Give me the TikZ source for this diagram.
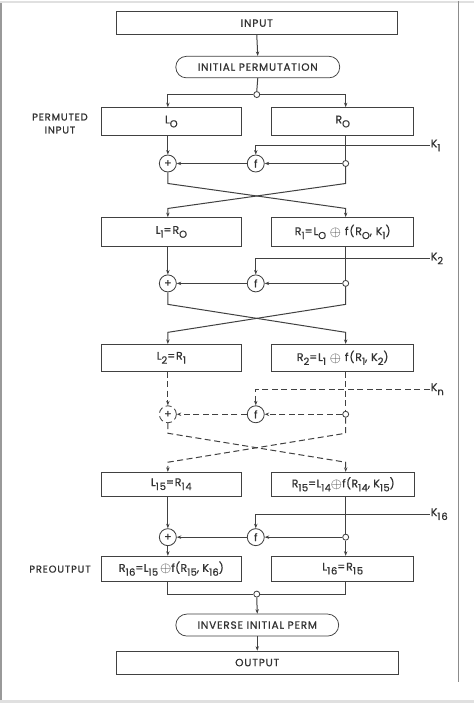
\documentclass[tikz,border=0pt]{standalone}
\usepackage{fontspec}
\setmainfont{Poppins}[LetterSpace=8, FakeBold=0.7]
\usetikzlibrary{arrows.meta}
\definecolor{ink}{RGB}{50,50,50}
\definecolor{lin}{RGB}{65,65,65}
\newcommand\subx[1]{\raisebox{-0.36em}{\fontsize{10}{10}\selectfont #1}}
\newcommand\xorc{\raisebox{-0.1em}{\fontsize{15}{15}\selectfont$\oplus$}}
\begin{document}
\begin{tikzpicture}[x=1pt,y=-1pt,
  every node/.style={text=ink, font=\fontsize{10.5}{13}\selectfont},
  bx/.style={draw=lin, line width=0.75pt, inner sep=0pt, minimum width=141pt},
  fx/.style={font=\fontsize{11}{13}\selectfont},
  pill/.style={draw=lin, line width=0.75pt, inner sep=0pt, minimum width=164pt, minimum height=21.5pt, rounded corners=10.5pt},
  wire/.style={draw=lin, line width=1pt},
  arr/.style={-{Stealth[length=4.5pt,width=3.4pt]}},
  dsh/.style={dash pattern=on 6pt off 3.5pt},
  circ/.style={circle, draw=lin, line width=0.85pt, minimum size=17pt, inner sep=0pt, fill=white, font=\fontsize{10.5}{11}\selectfont},
  dot/.style={circle, draw=lin, line width=0.85pt, minimum size=6pt, inner sep=0pt, fill=white},
  klab/.style={anchor=west, inner sep=1pt, font=\fontsize{11}{13}\selectfont},
  side/.style={align=center, font=\fontsize{10}{13}\selectfont}]
% frame
\fill[white] (0,0) rectangle (474,703);
\fill[black!40] (0,0) rectangle (2.2,703);
\fill[black!12] (0,0) rectangle (474,2);
\fill[black!12] (0,700) rectangle (474,703);
\draw[black!45, line width=1.3pt] (459,0) -- (459,682);
\useasboundingbox (0,0) rectangle (474,703);
\coordinate (lx) at (168,0);
\coordinate (rx) at (346,0);
% top
\node[bx, minimum width=282pt, minimum height=23pt] (in) at (257,22.5) {INPUT};
\node[pill] (ip) at (258,66.5) {INITIAL PERMUTATION};
\node[dot] (j0) at (257,94) {};
\node[bx, fx, minimum height=28pt] (L0) at (171.5,121) {L\subx{O}};
\node[bx, fx, minimum width=142pt, minimum height=28pt] (R0) at (343,121) {R\subx{O}};
\node[side] (perm) at (60,123) {PERMUTED\\INPUT};
\draw[wire,arr] (in.south) -- (ip.north);
\draw[wire] (ip.south) -- (j0.north);
\draw[wire,arr] (j0.west) -| (L0.north -| lx);
\draw[wire,arr] (j0.east) -| (R0.north -| rx);
% round 1
\node[circ] (p1) at (168,163) {+};
\node[circ] (f1) at (256,163) {f};
\node[dot] (j1) at (346,163) {};
\node[klab] (k1) at (430,145) {K\subx{1}};
\node[bx, fx, minimum height=29pt] (L1) at (171.5,231.5) {L\subx{1}=R\subx{O}};
\node[bx, fx, minimum width=142pt, minimum height=29pt] (R1) at (343,231.5) {R\subx{1}=L\subx{O} \xorc{} f(R\subx{O}, K\subx{1})};
\draw[wire,arr] (k1.west) -| (f1.north);
\draw[wire,arr] (L0.south -| lx) -- (p1.north);
\draw[wire] (R0.south -| rx) -- (j1.north);
\draw[wire,arr] (j1.west) -- (f1.east);
\draw[wire,arr] (f1.west) -- (p1.east);
\draw[wire,arr] (p1.south) -- (168,183) -- (346,208) -- (R1.north -| rx);
\draw[wire,arr] (j1.south) -- (346,183) -- (168,208) -- (L1.north -| lx);
% round 2
\node[circ] (p2) at (168,283) {+};
\node[circ] (f2) at (256,283) {f};
\node[dot] (j2) at (346,283) {};
\node[klab] (k2) at (430,258) {K\subx{2}};
\node[bx, fx, minimum height=27pt] (L2) at (171.5,357.5) {L\subx{2}=R\subx{1}};
\node[bx, fx, minimum width=142pt, minimum height=27pt] (R2) at (343,357.5) {R\subx{2}=L\subx{1} \xorc{} f(R\subx{1}, K\subx{2})};
\draw[wire,arr] (k2.west) -| (f2.north);
\draw[wire,arr] (L1.south -| lx) -- (p2.north);
\draw[wire] (R1.south -| rx) -- (j2.north);
\draw[wire,arr] (j2.west) -- (f2.east);
\draw[wire,arr] (f2.west) -- (p2.east);
\draw[wire,arr] (p2.south) -- (168,304) -- (346,332) -- (R2.north -| rx);
\draw[wire,arr] (j2.south) -- (346,304) -- (168,332) -- (L2.north -| lx);
% round n (dashed)
\node[circ, dsh] (pn) at (168,414) {+};
\node[circ] (fn) at (256,414) {f};
\node[dot] (jn) at (346,414) {};
\node[klab] (kn) at (430,389) {K\subx{n}};
\node[bx, fx, minimum height=24pt] (L15) at (171.5,484) {L\subx{15}=R\subx{14}};
\node[bx, fx, minimum width=143pt, minimum height=24pt] (R15) at (343.5,484) {\addfontfeature{LetterSpace=3}R\subx{15}=L\subx{14}\xorc{}f(R\subx{14}, K\subx{15})};
\draw[wire,dsh,arr] (kn.west) -| (fn.north);
\draw[wire,dsh,arr] (L2.south -| lx) -- (pn.north);
\draw[wire,dsh] (R2.south -| rx) -- (jn.north);
\draw[wire,dsh,arr] (jn.west) -- (fn.east);
\draw[wire,dsh,arr] (fn.west) -- (pn.east);
\draw[wire,dsh,arr] (pn.south) -- (168,433) -- (346,462) -- (R15.north -| rx);
\draw[wire,dsh,arr] (jn.south) -- (346,433) -- (168,462) -- (L15.north -| lx);
% round 16
\node[circ] (p16) at (168,537) {+};
\node[circ] (f16) at (256,537) {f};
\node[dot] (j16) at (346,537) {};
\node[klab] (k16) at (430,514) {K\subx{16}};
\node[bx, fx, minimum height=25pt] (R16) at (171.5,568.5) {\addfontfeature{LetterSpace=3}R\subx{16}=L\subx{15}\,\xorc{}f(R\subx{15}, K\subx{16})};
\node[bx, fx, minimum width=142pt, minimum height=25pt] (L16) at (343,568.5) {L\subx{16}=R\subx{15}};
\node[side] (pre) at (60,569) {PREOUTPUT};
\draw[wire,arr] (k16.west) -| (f16.north);
\draw[wire,arr] (L15.south -| lx) -- (p16.north);
\draw[wire] (R15.south -| rx) -- (j16.north);
\draw[wire,arr] (j16.west) -- (f16.east);
\draw[wire,arr] (f16.west) -- (p16.east);
\draw[wire,arr] (p16.south) -- (R16.north -| lx);
\draw[wire,arr] (j16.south) -- (L16.north -| rx);
% bottom
\node[dot] (j17) at (257,594) {};
\node[pill, minimum width=163pt, minimum height=22pt, rounded corners=11pt] (inv) at (257.5,625) {INVERSE INITIAL PERM};
\node[bx, minimum width=283pt, minimum height=23pt] (out) at (257.5,662.5) {OUTPUT};
\draw[wire] (R16.south -| lx) |- (j17.west);
\draw[wire] (L16.south -| rx) |- (j17.east);
\draw[wire,arr] (j17.south) -- (inv.north);
\draw[wire,arr] (inv.south) -- (out.north);
\end{tikzpicture}
\end{document}
